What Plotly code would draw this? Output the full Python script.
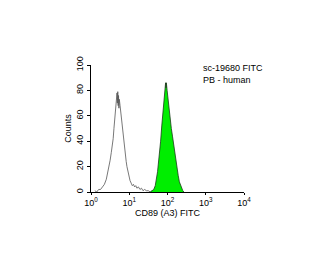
import plotly.graph_objects as go

# Open (control) histogram: log10 fluorescence exponent and counts
ctrl_exp = [0.10, 0.15, 0.20, 0.25, 0.30, 0.35, 0.40, 0.44, 0.48, 0.50, 0.53, 0.56, 0.58,
            0.60, 0.62, 0.64, 0.66, 0.68, 0.69, 0.70, 0.71, 0.72, 0.73, 0.74, 0.76, 0.78,
            0.80, 0.82, 0.84, 0.86, 0.88, 0.90, 0.92, 0.94, 0.96, 0.98, 1.00, 1.02, 1.05,
            1.08, 1.11, 1.14, 1.17, 1.20, 1.24, 1.28, 1.32, 1.36, 1.40, 1.45, 1.50, 1.55,
            1.60, 1.65]
ctrl_cnt = [1, 0, 2, 2, 4, 6, 10, 15, 20, 25, 31, 37, 42,
            50, 58, 66, 72, 78, 70, 79, 68, 76, 66, 73, 68, 62,
            56, 50, 45, 40, 34, 28, 24, 20, 17, 13, 11, 9, 7,
            5, 6, 4, 5, 3, 4, 2, 3, 1, 2, 1, 1, 0,
            1, 0]

# Stained (sc-19680 FITC) histogram
stain_exp = [1.55, 1.60, 1.64, 1.68, 1.71, 1.74, 1.76, 1.79, 1.82, 1.85, 1.88, 1.91, 1.93,
             1.95, 1.96, 1.97, 1.99, 2.01, 2.04, 2.07, 2.10, 2.13, 2.16, 2.19, 2.22, 2.25,
             2.28, 2.31, 2.34, 2.37, 2.40, 2.43]
stain_cnt = [0, 1, 2, 5, 10, 16, 22, 30, 40, 52, 63, 74, 80,
             86, 82, 86, 80, 74, 66, 58, 50, 44, 37, 30, 24, 19,
             13, 8, 5, 2, 1, 0]

tick_vals = [1, 10, 100, 1000, 10000]
tick_text = ["10<sup>0</sup>", "10<sup>1</sup>", "10<sup>2</sup>", "10<sup>3</sup>", "10<sup>4</sup>"]
y_ticks = [0, 20, 40, 60, 80, 100]

FONT = "Liberation Sans Narrow, Liberation Sans, Arial"

fig = go.Figure()
fig.add_trace(go.Scatter(
    x=[10 ** e for e in ctrl_exp], y=ctrl_cnt, mode="lines",
    line=dict(color="#555555", width=0.8), showlegend=False))
fig.add_trace(go.Scatter(
    x=[10 ** e for e in stain_exp], y=stain_cnt, mode="lines",
    line=dict(color="#1a3a1a", width=0.8), fill="tozeroy", fillcolor="#00ee00",
    showlegend=False))

fig.update_layout(
    width=320, height=275,
    margin=dict(l=91, r=76, t=65, b=83),
    paper_bgcolor="white", plot_bgcolor="white",
    font=dict(family=FONT, size=9, color="black"),
    xaxis=dict(type="log", range=[0, 4], tickvals=tick_vals, ticktext=tick_text,
               showgrid=False, zeroline=False, showline=True, linecolor="black", linewidth=1,
               ticks="outside", ticklen=2, tickcolor="black",
               title=dict(text="CD89 (A3) FITC", font=dict(family=FONT, size=9), standoff=1)),
    yaxis=dict(range=[0, 100], tickvals=y_ticks, tickangle=-90,
               showgrid=False, zeroline=False, showline=True, linecolor="black", linewidth=1,
               ticks="outside", ticklen=3, tickcolor="black",
               title=dict(text="Counts", font=dict(family=FONT, size=9), standoff=2)),
    annotations=[
        dict(text="sc-19680 FITC<br>PB - human", xref="paper", yref="paper",
             x=0.72, y=1.03, xanchor="left", yanchor="top", showarrow=False,
             align="left", font=dict(family=FONT, size=9, color="black")),
    ],
)

fig.write_html("out.html")
